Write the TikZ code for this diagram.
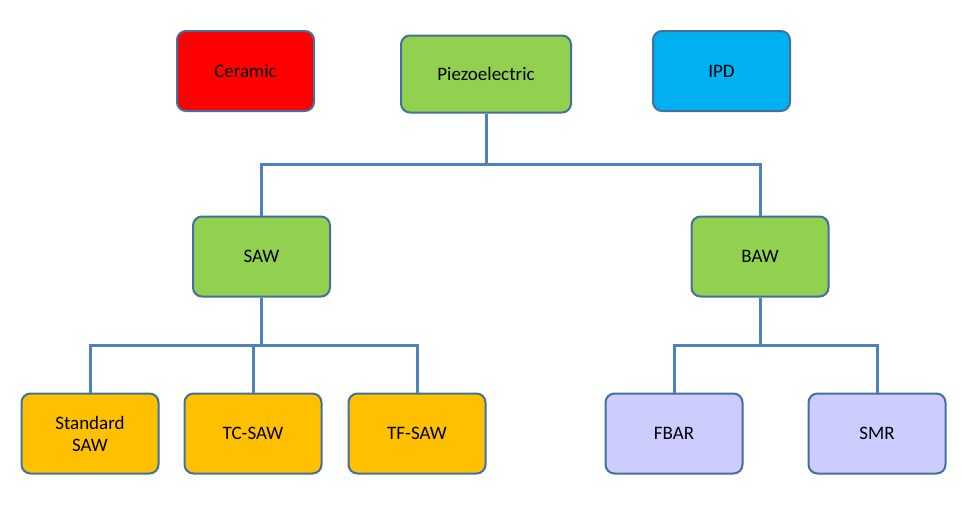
\documentclass[tikz,border=0pt]{standalone}
\usepackage{fontspec}
\setmainfont{Carlito}
\begin{document}
\begin{tikzpicture}[x=1pt,y=-1pt,
 box/.style={draw=boxline,line width=2pt,rounded corners=9pt,minimum width=137pt,minimum height=80pt,align=center,font=\fontsize{19}{22}\selectfont,inner sep=2pt},
 conn/.style={draw=connline,line width=3pt}]
\definecolor{boxline}{HTML}{41719C}
\definecolor{connline}{HTML}{4F81BD}
\definecolor{cgreen}{HTML}{92D050}
\definecolor{cblue}{HTML}{00B0F0}
\definecolor{corange}{HTML}{FFC000}
\definecolor{clav}{HTML}{CCCCFF}
\useasboundingbox (0,0) rectangle (962,507);
\fill[white] (0,0) rectangle (962,507);
\node[box,fill=red] (cer) at (245.5,71) {Ceramic};
\node[box,fill=cgreen,minimum width=170pt,minimum height=77pt] (pie) at (486,74) {Piezoelectric};
\node[box,fill=cblue] (ipd) at (721.5,71) {IPD};
\node[box,fill=cgreen] (saw) at (261.5,256.5) {SAW};
\node[box,fill=cgreen] (baw) at (760,256.5) {BAW};
\node[box,fill=corange] (ss) at (90,433.5) {Standard\\SAW};
\node[box,fill=corange] (tc) at (253,433.5) {TC-SAW};
\node[box,fill=corange] (tf) at (417,433.5) {TF-SAW};
\node[box,fill=clav] (fb) at (674,433.5) {FBAR};
\node[box,fill=clav] (smr) at (877,433.5) {SMR};
\coordinate (j1) at (486,164);
\coordinate (j2) at (261.5,345);
\coordinate (j3) at (760,345);
\draw[conn] (pie.south) -- (j1);
\draw[conn] (saw.north) |- (j1) -| (baw.north);
\draw[conn] (saw.south) -- (j2);
\draw[conn] (ss.north) |- (j2) -| (tf.north);
\draw[conn] (tc.north) -- (tc.north |- j2);
\draw[conn] (baw.south) -- (j3);
\draw[conn] (fb.north) |- (j3) -| (smr.north);
\end{tikzpicture}
\end{document}
